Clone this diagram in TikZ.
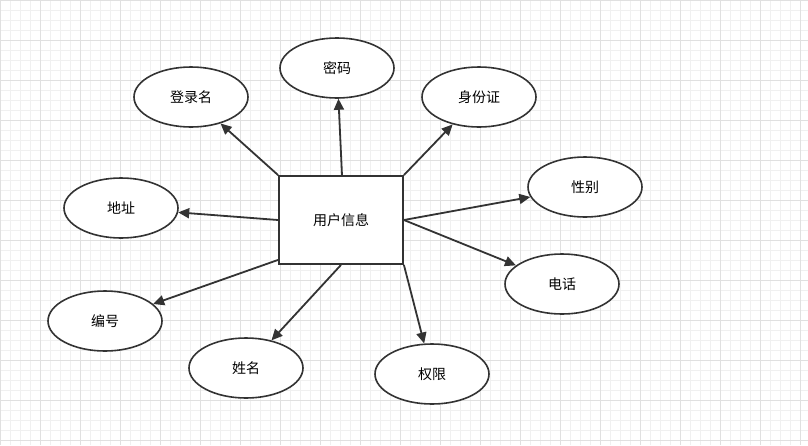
\documentclass[tikz,border=0pt]{standalone}
\usepackage{fontspec}
\setmainfont{Noto Sans CJK SC}
\usetikzlibrary{arrows.meta,shapes.geometric}
\tikzset{
  attr/.style={ellipse, draw=black!80, line width=1.6pt, minimum width=114pt, minimum height=60pt, fill=white},
  entity/.style={rectangle, draw=black!80, line width=1.8pt, minimum width=124pt, minimum height=88pt, fill=white},
  link/.style={-{Triangle[length=11pt,width=10pt]}, line width=1.8pt, draw=black!80},
}
\begin{document}
\begin{tikzpicture}[x=1pt, y=-1pt, font=\fontsize{14pt}{16pt}\selectfont]
  \useasboundingbox (0,0) rectangle (808,445);
  \fill[white] (0,0) rectangle (808,445);
  \foreach \i in {0,10,...,800} \draw[black!6] (\i,0) -- (\i,445);
  \foreach \i in {0,10,...,440} \draw[black!6] (0,\i) -- (808,\i);
  \foreach \i in {0,40,...,800} \draw[black!12] (\i,0) -- (\i,445);
  \foreach \i in {0,40,...,440} \draw[black!12] (0,\i) -- (808,\i);

  \node[entity] (user) at (341,220) {用户信息};

  \node[attr] (login) at (191,97)  {登录名};
  \node[attr] (pwd)   at (337,68)  {密码};
  \node[attr] (idno)  at (479,97)  {身份证};
  \node[attr] (sex)   at (585,187) {性别};
  \node[attr] (tel)   at (562,284) {电话};
  \node[attr] (perm)  at (432,374) {权限};
  \node[attr] (name)  at (246,368) {姓名};
  \node[attr] (num)   at (105,321) {编号};
  \node[attr] (addr)  at (121,208) {地址};

  \draw[link] (user.north west) -- (login);
  \draw[link] ([xshift=1pt]user.north) -- (pwd);
  \draw[link] (user.north east) -- (idno);
  \draw[link] (user.east) -- (sex);
  \draw[link] (user.east) -- (tel);
  \draw[link] (user.south east) -- (perm);
  \draw[link] (user.south) -- (name);
  \draw[link] ([yshift=5pt]user.south west) -- (num);
  \draw[link] (user.west) -- (addr);

\end{tikzpicture}
\end{document}
